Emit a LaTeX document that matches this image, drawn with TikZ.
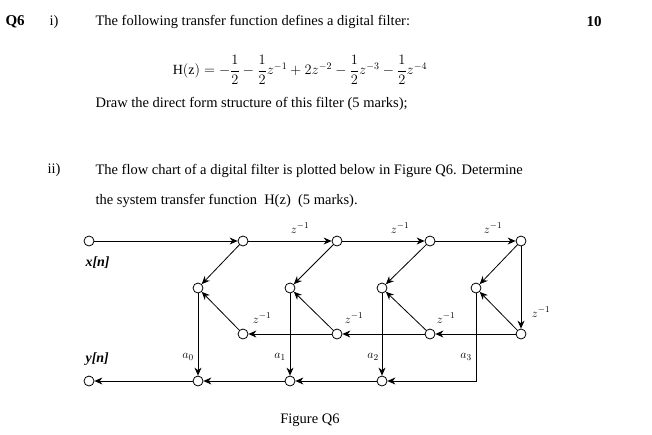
\documentclass[tikz,border=0pt]{standalone}
\usepackage{amsmath}
\usepackage{fontspec}
\setmainfont{Liberation Serif}
\usetikzlibrary{arrows.meta}
\begin{document}
\begin{tikzpicture}[x=1pt,y=-1pt,
  nd/.style={circle,draw,thick,inner sep=0pt,minimum size=10pt,fill=white},
  ar/.style={thick,-{Stealth[length=8pt,width=7pt]}},
  lab/.style={font=\fontsize{13}{15}\selectfont},
  txt/.style={anchor=west,font=\fontsize{14.5}{17}\selectfont}]
\useasboundingbox (0,0) rectangle (652,434);
\node[anchor=west,font=\fontsize{15}{17}\selectfont\bfseries] (q) at (2,22) {Q6};
\node[anchor=west,font=\fontsize{14.5}{17}\selectfont] (i) at (46,22) {i)};
\node[txt] (t1) at (92,22) {The following transfer function defines a digital filter:};
\node[font=\fontsize{15}{17}\selectfont\bfseries] (ten) at (594,22) {10};
\node[font=\fontsize{14}{17}\selectfont] (f) at (300,70) {$\mathrm{H(z)}=-\dfrac{1}{2}-\dfrac{1}{2}z^{-1}+2z^{-2}-\dfrac{1}{2}z^{-3}-\dfrac{1}{2}z^{-4}$};
\node[txt] (t2) at (92,104) {Draw the direct form structure of this filter (5 marks);};
\node[anchor=west,font=\fontsize{14.5}{17}\selectfont] (ii) at (44,170) {ii)};
\node[txt] (t3) at (92,171) {The flow chart of a digital filter is plotted below in Figure Q6. Determine};
\node[txt] (t4) at (92,201) {the system transfer function\ \ H(z)\ \ (5 marks).};
% nodes
\node[nd] (x) at (89,241) {};
\node[nd] (t0) at (243,241) {};
\node[nd] (t1n) at (337,241) {};
\node[nd] (t2n) at (430,241) {};
\node[nd] (t3n) at (521,241) {};
\node[nd] (m0) at (198,288) {};
\node[nd] (m1) at (290,288) {};
\node[nd] (m2) at (382,288) {};
\node[nd] (m3) at (476,288) {};
\node[nd] (l0) at (243,334) {};
\node[nd] (l1) at (337,334) {};
\node[nd] (l2) at (430,334) {};
\node[nd] (l3) at (521,334) {};
\node[nd] (y) at (89,381) {};
\node[nd] (b0) at (198,381) {};
\node[nd] (b1) at (290,381) {};
\node[nd] (b2) at (382,381) {};
\coordinate (c3) at (476,381);
\node[font=\fontsize{14}{16}\selectfont\bfseries\itshape,anchor=west] (xl) at (82,263) {x[n]};
\node[font=\fontsize{14}{16}\selectfont\bfseries\itshape,anchor=west] (yl) at (82,359) {y[n]};
% top
\draw[ar] (x) -- (t0);
\draw[ar] (t0) -- (t1n);
\draw[ar] (t1n) -- (t2n);
\draw[ar] (t2n) -- (t3n);
\node[lab] at (300,228) {$z^{-1}$};
\node[lab] at (400,228) {$z^{-1}$};
\node[lab] at (493,228) {$z^{-1}$};
% diagonals down
\draw[ar] (t0) -- (m0);
\draw[ar] (t1n) -- (m1);
\draw[ar] (t2n) -- (m2);
\draw[ar] (t3n) -- (m3);
\draw[ar] (t3n) -- (l3);
\node[lab] at (541,312) {$z^{-1}$};
% lower row
\draw[ar] (l3) -- (l2);
\draw[ar] (l2) -- (l1);
\draw[ar] (l1) -- (l0);
\node[lab] at (262,318) {$z^{-1}$};
\node[lab] at (354,318) {$z^{-1}$};
\node[lab] at (446,318) {$z^{-1}$};
\draw[ar] (l0) -- (m0);
\draw[ar] (l1) -- (m1);
\draw[ar] (l2) -- (m2);
\draw[ar] (l3) -- (m3);
% verticals
\draw[ar] (m0) -- (b0);
\draw[ar] (m1) -- (b1);
\draw[ar] (m2) -- (b2);
\draw[ar] (m3) -- (c3) -- (b2);
\node[lab] at (188,357) {$a_0$};
\node[lab] at (280,357) {$a_1$};
\node[lab] at (373,357) {$a_2$};
\node[lab] at (466,357) {$a_3$};
% bottom
\draw[ar] (b2) -- (b1);
\draw[ar] (b1) -- (b0);
\draw[ar] (b0) -- (y);
\node[font=\fontsize{14.5}{17}\selectfont] (fig) at (310,420) {Figure Q6};
\end{tikzpicture}
\end{document}
